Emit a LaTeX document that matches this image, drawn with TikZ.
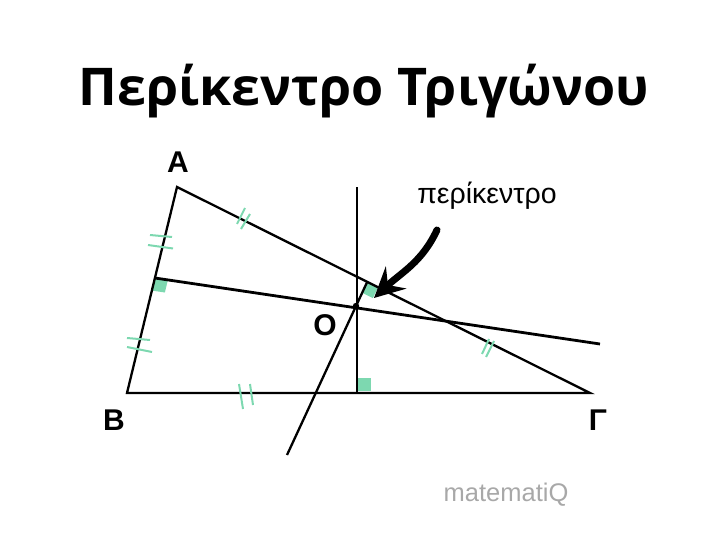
\documentclass[tikz,border=0pt]{standalone}
\usepackage{fontspec}
\setmainfont{Liberation Sans}
\newfontfamily\titlefont{Open Sans}
\usetikzlibrary{arrows.meta}
\definecolor{tickgreen}{HTML}{7DD8B0}
\definecolor{wmgray}{HTML}{A8A8A8}
\tikzset{
  side/.style={line width=2.3pt, black},
  bisect/.style={line width=2.8pt, black},
  tickmark/.style={line width=2pt, tickgreen},
  rightsq/.style={fill=tickgreen, draw=none},
  vlabel/.style={font=\fontsize{30}{30}\selectfont\bfseries, inner sep=0pt},
}
\begin{document}
\begin{tikzpicture}[x=1pt,y=-1pt]
\useasboundingbox (0,0) rectangle (714,556);
% title
\node[font=\titlefont\fontsize{52}{52}\selectfont\bfseries, inner sep=0pt] (title) at (364,91) {Περίκεντρο Τριγώνου};
% points
\coordinate (A) at (177,187);
\coordinate (B) at (127,393);
\coordinate (G) at (590,393);
\coordinate (O) at (356,306);
\coordinate (M1) at (155,278);
\coordinate (E1) at (600,344);
\coordinate (V1) at (357,187);
\coordinate (V2) at (357,393);
\coordinate (L1) at (287,455);
\coordinate (P) at (367.2,281.9);
% right-angle marks
\fill[rightsq] (M1) -- (152,290.6) -- (164.9,292.5) -- (167.9,279.9) -- cycle;
\fill[rightsq] (358,378) rectangle (371,391);
\fill[rightsq] (P) -- (377.9,287.3) -- (372.9,298.2) -- (362.2,292.8) -- cycle;
% triangle
\draw[side, line join=miter] (A) -- (B) -- (G) -- cycle;
% bisectors
\draw[side] (V1) -- (V2);
\draw[bisect] (M1) -- (E1);
\draw[side] (L1) -- (P);
% circumcenter
\fill (O) circle (3.2pt);
% ticks on AB
\draw[tickmark] (150,235) -- (172,237);
\draw[tickmark] (148,245) -- (173,248.5);
\draw[tickmark] (127,338) -- (150,340);
\draw[tickmark] (127,347) -- (152,352);
% ticks on BG
\draw[tickmark] (239,384) -- (243,409);
\draw[tickmark] (250,384) -- (253,405);
% ticks on AG
\draw[tickmark] (237,224) -- (245,208);
\draw[tickmark] (241,229) -- (250,214);
\draw[tickmark] (482,354) -- (489,339);
\draw[tickmark] (486,357) -- (494,341);
% labels
\node[vlabel] (lA) at (178,162) {Α};
\node[vlabel] (lB) at (114,420) {Β};
\node[vlabel] (lG) at (598,420) {Γ};
\node[vlabel] (lO) at (325,325) {Ο};
% annotation
\node[font=\fontsize{28.5}{28.5}\selectfont, inner sep=0pt] (ann) at (487,196) {περίκεντρο};
\coordinate (arrS) at (437,230);
\coordinate (arrE) at (374,298);
\draw[line width=7pt, line cap=round, -{Stealth[length=30pt,width=30pt,inset=11pt]}]
  (arrS) .. controls (422,262) and (402,272) .. (arrE);
% watermark
\node[font=\fontsize{25.5}{25.5}\selectfont, text=wmgray, inner sep=0pt] (wm) at (506,495) {matematiQ};
\end{tikzpicture}
\end{document}
